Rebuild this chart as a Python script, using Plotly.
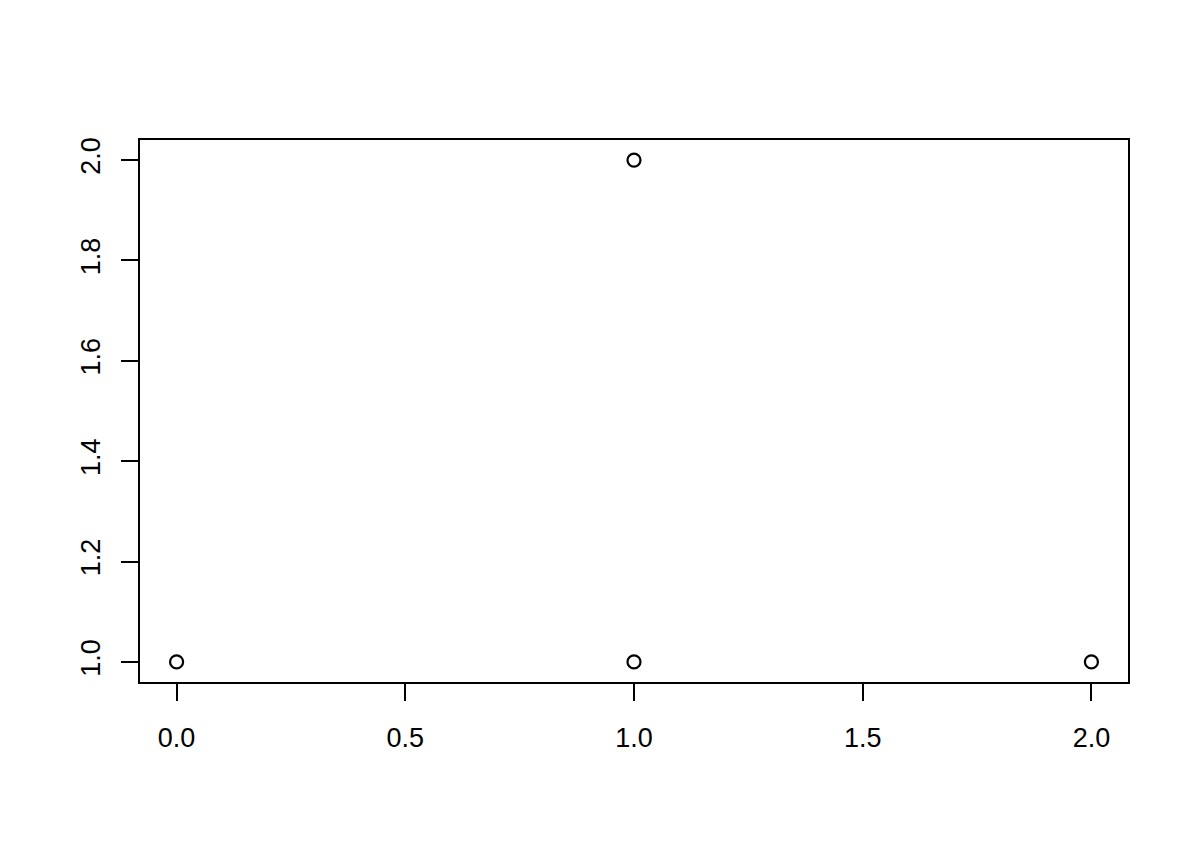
import plotly.graph_objects as go

x_vals = [0, 1, 1, 2]
y_vals = [1, 1, 2, 1]
x_ticks = [0.0, 0.5, 1.0, 1.5, 2.0]
x_tick_text = ["0.0", "0.5", "1.0", "1.5", "2.0"]
y_ticks = [1.0, 1.2, 1.4, 1.6, 1.8, 2.0]
y_tick_text = ["1.0", "1.2", "1.4", "1.6", "1.8", "2.0"]

fig = go.Figure()
fig.add_trace(go.Scatter(
    x=x_vals, y=y_vals, mode="markers",
    marker=dict(symbol="circle-open", size=13, color="black", line=dict(width=2.2, color="black")),
    showlegend=False, hoverinfo="x+y",
))

axis_common = dict(
    showline=True, mirror=True, linecolor="black", linewidth=2,
    showgrid=False, zeroline=False,
    ticks="outside", ticklen=17, tickwidth=2, tickcolor="black",
    tickfont=dict(family="Liberation Sans, Arial", size=27, color="black"),
)

fig.update_xaxes(range=[-0.08, 2.08], tickvals=x_ticks, ticktext=x_tick_text,
                 ticklabelstandoff=14, **axis_common)
fig.update_yaxes(range=[0.96, 2.04], tickvals=y_ticks, ticktext=y_tick_text,
                 tickangle=-90, ticklabelstandoff=10, **axis_common)

# page has an 8px offset, so margins are shifted to land the box where R put it
fig.update_layout(
    width=1200, height=857,
    margin=dict(l=132, r=80, t=132, b=183),
    paper_bgcolor="white", plot_bgcolor="white",
)

fig.write_html("out.html")
